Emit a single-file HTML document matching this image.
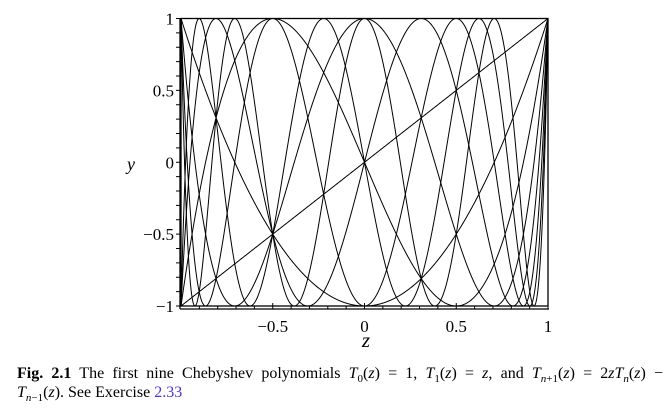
<!DOCTYPE html>
<html><head><meta charset="utf-8"><style>
body{margin:0;background:#fff;width:669px;height:415px;overflow:hidden;font-family:"Liberation Serif",serif}
svg text{font-family:"Liberation Serif",serif}
#cap{position:absolute;left:17px;top:364px;width:646px;font-size:16px;line-height:19px;color:#000}
#cap .l1{text-align:justify;text-align-last:justify}
#cap i{font-style:italic}
sub{font-size:11px;line-height:0}
.lnk{color:#4a35d8}
</style></head><body>
<svg id="chart" width="669" height="360" style="position:absolute;left:0;top:0"></svg>
<div id="cap"><div class="l1"><b>Fig. 2.1</b> The first nine Chebyshev polynomials <i>T</i><sub>0</sub>(<i>z</i>) = 1, <i>T</i><sub>1</sub>(<i>z</i>) = <i>z</i>, and <i>T</i><sub><i>n</i>+1</sub>(<i>z</i>) = 2<i>zT<sub>n</sub></i>(<i>z</i>) −</div><div><i>T</i><sub><i>n</i>−1</sub>(<i>z</i>). See Exercise <span class="lnk">2.33</span></div></div>
<script>
const degrees=[0,1,2,3,4,5,6,7,8];
const xTicks=[-0.5,0,0.5,1];
const xTickLabels=["−0.5","0","0.5","1"];
const yTicks=[-1,-0.5,0,0.5,1];
const yTickLabels=["−1","−0.5","0","0.5","1"];
const NS="http://www.w3.org/2000/svg";
const svg=document.getElementById('chart');
const X0=181,X1=548,Y0=306,Y1=18.5;
const sx=v=>X0+(v+1)/2*(X1-X0);
const sy=v=>Y0-(v+1)/2*(Y0-Y1);
function mk(t,a){const e=document.createElementNS(NS,t);for(const k in a)e.setAttribute(k,a[k]);svg.appendChild(e);return e;}
const fr=mk('rect',{x:X0,y:Y1,width:X1-X0,height:Y0-Y1,fill:'none',stroke:'#000','stroke-width':1.3});


const xa=mk('line',{x1:X0-1,y1:Y0+3,x2:X1+1,y2:Y0+3,stroke:'#000','stroke-width':1.3});


const ya=mk('line',{x1:X0-1,y1:Y1,x2:X0-1,y2:Y0+3,stroke:'#000','stroke-width':1.3});


for(let v=-0.9;v<=1.001;v+=0.1){const x=sx(v);const major=Math.abs(v*2-Math.round(v*2))<1e-6;
 const t=mk('line',{x1:x,y1:Y0+3,x2:x,y2:Y0+(major?-3:0),stroke:'#000','stroke-width':1});
 
 }
for(let v=-1;v<=1.001;v+=0.1){const y=sy(v);
 const t=mk('line',{x1:X0-5,y1:y,x2:X0,y2:y,stroke:'#000','stroke-width':1});
 
 }
xTicks.forEach((v,i)=>{const t=mk('text',{x:sx(v),y:Y0+26,'text-anchor':'middle','font-size':17});t.textContent=xTickLabels[i];
 
 });
yTicks.forEach((v,i)=>{const t=mk('text',{x:X0-7,y:sy(v)+6,'text-anchor':'end','font-size':17});t.textContent=yTickLabels[i];
 
 });
const xl=mk('text',{x:366,y:347,'text-anchor':'middle','font-size':21,'font-style':'italic'});xl.textContent='z';


const yl=mk('text',{x:131,y:170,'text-anchor':'middle','font-size':18,'font-style':'italic'});yl.textContent='y';


degrees.forEach(n=>{let d='';for(let i=0;i<=800;i++){const x=-1+2*i/800;const y=Math.cos(n*Math.acos(Math.max(-1,Math.min(1,x))));d+=(i?'L':'M')+sx(x).toFixed(2)+' '+sy(y).toFixed(2);}
 const p=mk('path',{d:d,fill:'none',stroke:'#000','stroke-width':1});
 
 });
</script>
</body></html>
